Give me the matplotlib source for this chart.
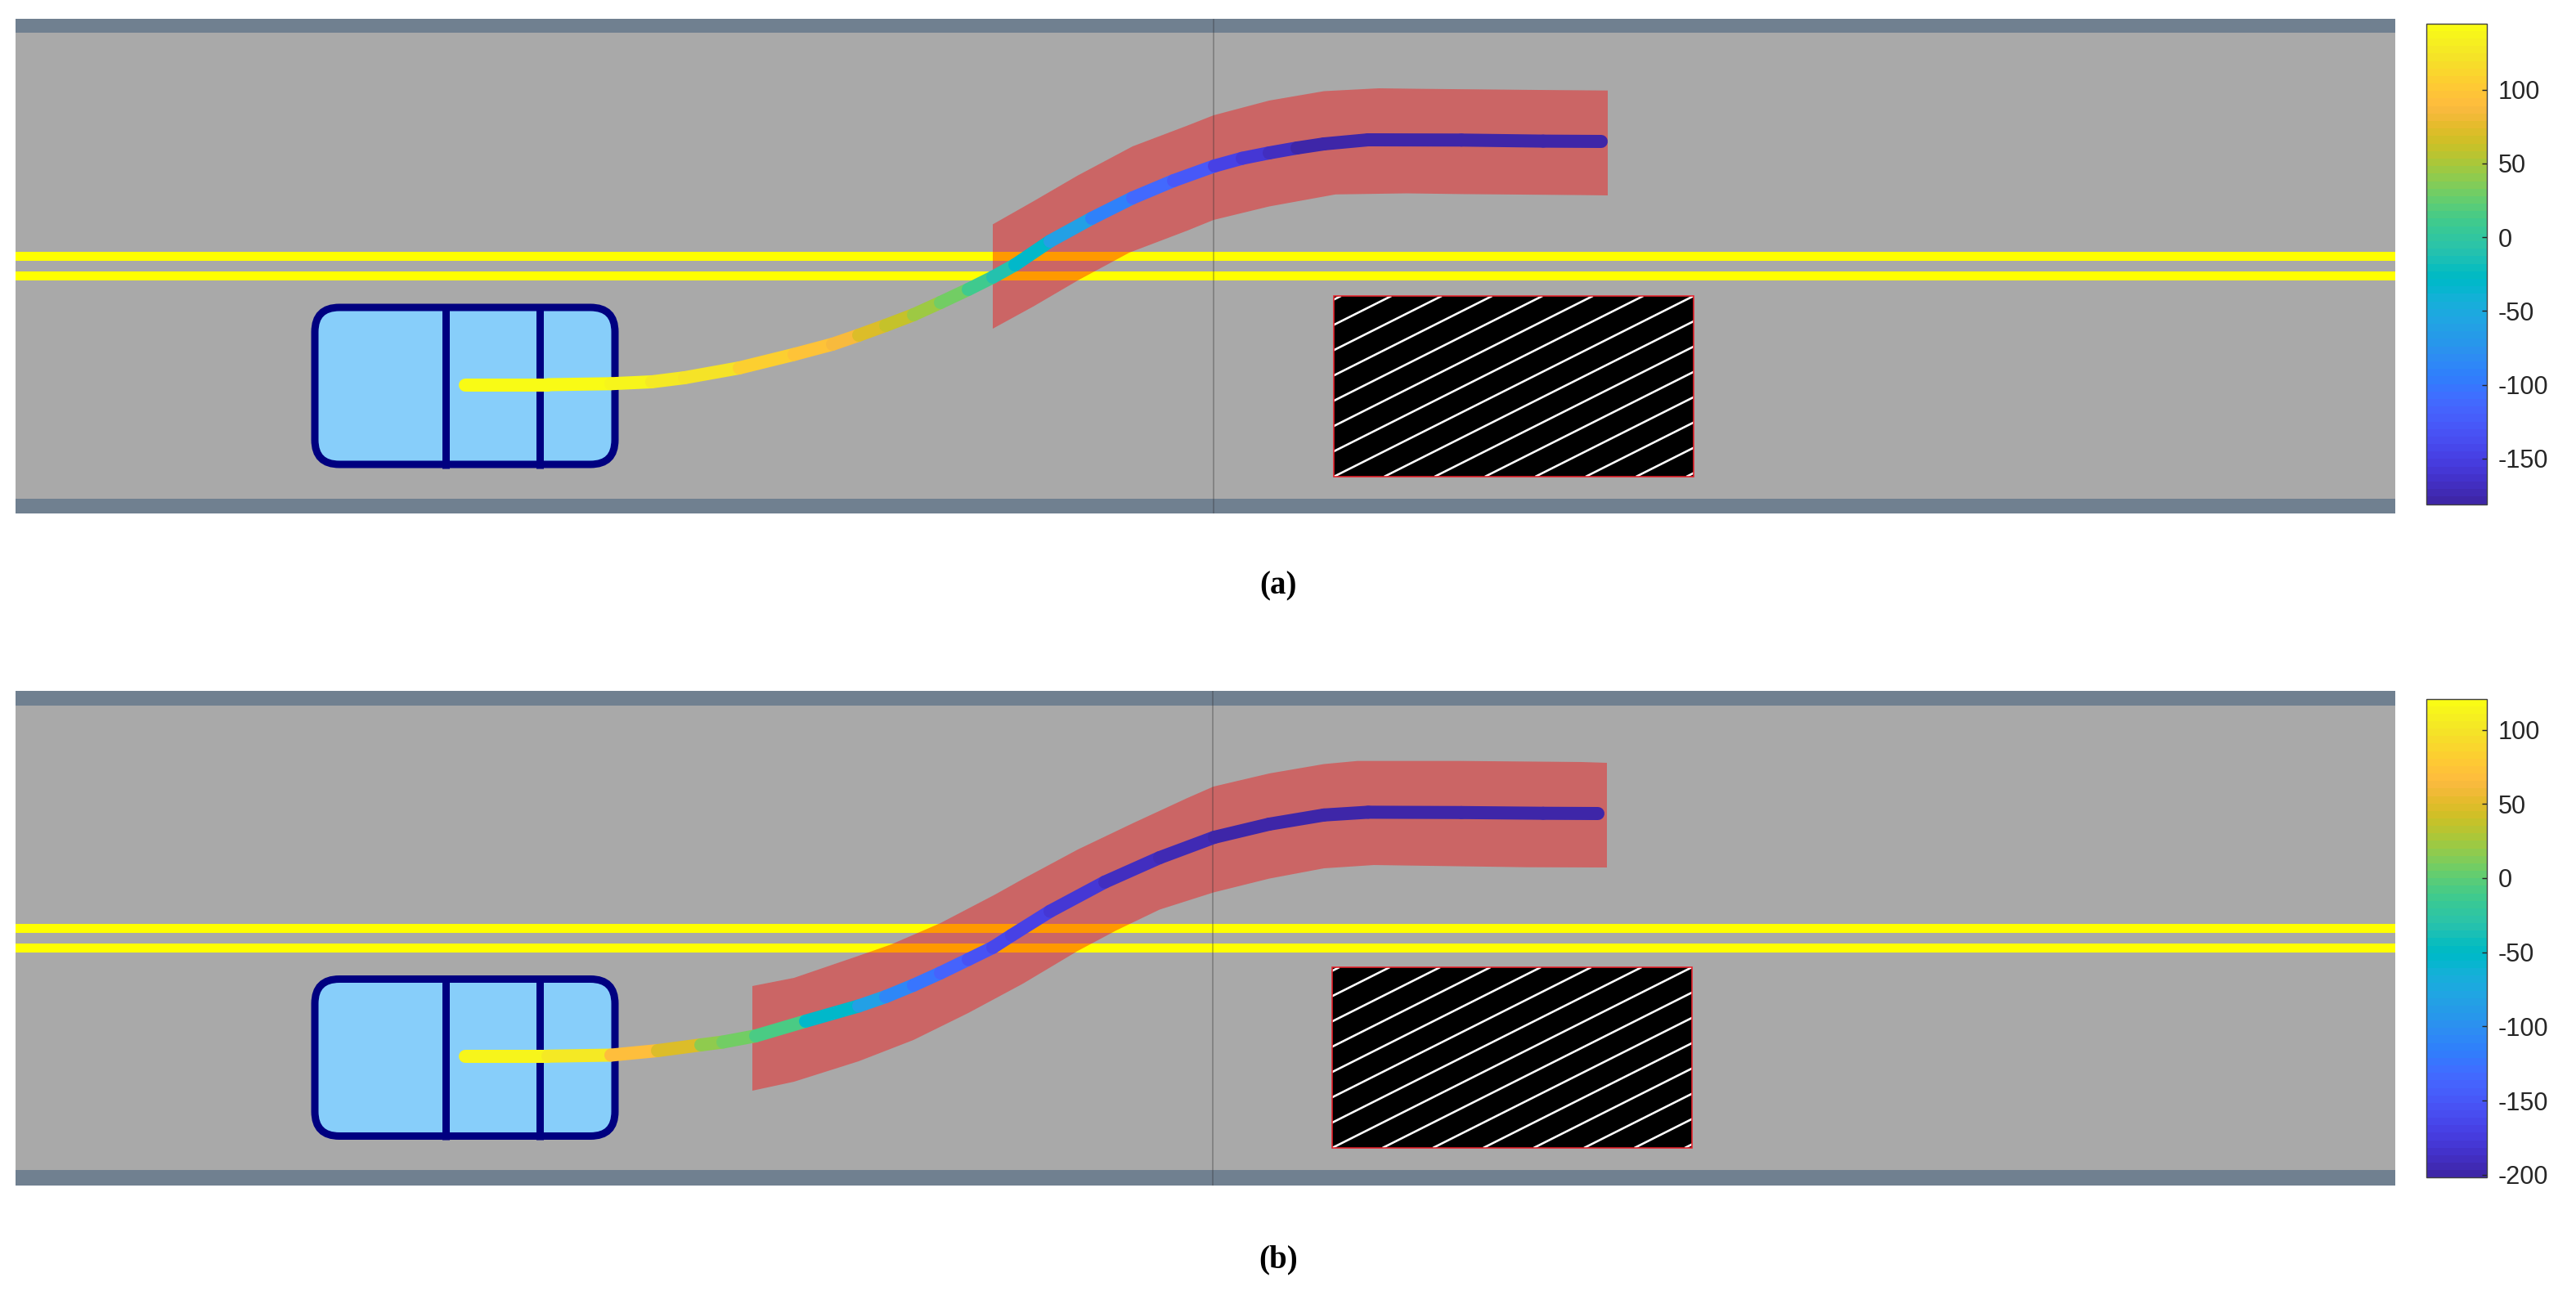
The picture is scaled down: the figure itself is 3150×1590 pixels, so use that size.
import numpy as np
import matplotlib
matplotlib.use("Agg")
import matplotlib.pyplot as plt
from matplotlib.cm import ScalarMappable
from matplotlib.collections import LineCollection
from matplotlib.colors import ListedColormap, Normalize
from matplotlib.patches import FancyBboxPatch, Rectangle
from matplotlib.transforms import Bbox

plt.rcParams["font.family"] = ["Liberation Sans", "DejaVu Sans"]
plt.rcParams["axes.unicode_minus"] = False

WIDTH, HEIGHT = 3150, 1590
PT = 0.72  # one pixel in points at dpi 100

# MATLAB parula, old version (R2014a), 64 levels
PARULA = [
    (0.2422, 0.1504, 0.6603), (0.2504, 0.1650, 0.7076), (0.2578, 0.1818, 0.7511), (0.2647, 0.1978, 0.7952),
    (0.2706, 0.2147, 0.8364), (0.2751, 0.2342, 0.8710), (0.2783, 0.2559, 0.8991), (0.2803, 0.2782, 0.9221),
    (0.2813, 0.3006, 0.9414), (0.2810, 0.3228, 0.9579), (0.2795, 0.3447, 0.9717), (0.2760, 0.3667, 0.9829),
    (0.2699, 0.3892, 0.9906), (0.2602, 0.4123, 0.9952), (0.2440, 0.4358, 0.9988), (0.2206, 0.4603, 0.9973),
    (0.1963, 0.4847, 0.9892), (0.1834, 0.5074, 0.9798), (0.1786, 0.5289, 0.9682), (0.1764, 0.5499, 0.9520),
    (0.1687, 0.5703, 0.9359), (0.1540, 0.5902, 0.9218), (0.1460, 0.6091, 0.9079), (0.1380, 0.6276, 0.8973),
    (0.1248, 0.6459, 0.8883), (0.1113, 0.6635, 0.8763), (0.0952, 0.6798, 0.8598), (0.0689, 0.6948, 0.8394),
    (0.0297, 0.7082, 0.8163), (0.0036, 0.7200, 0.7917), (0.0067, 0.7300, 0.7660), (0.0433, 0.7394, 0.7394),
    (0.0964, 0.7500, 0.7120), (0.1408, 0.7584, 0.6842), (0.1717, 0.7670, 0.6554), (0.1938, 0.7758, 0.6251),
    (0.2161, 0.7843, 0.5923), (0.2470, 0.7918, 0.5567), (0.2906, 0.7973, 0.5188), (0.3406, 0.8008, 0.4789),
    (0.3909, 0.8029, 0.4354), (0.4456, 0.8024, 0.3909), (0.5044, 0.7993, 0.3480), (0.5616, 0.7942, 0.3045),
    (0.6174, 0.7876, 0.2612), (0.6720, 0.7793, 0.2227), (0.7242, 0.7698, 0.1910), (0.7738, 0.7598, 0.1646),
    (0.8203, 0.7498, 0.1535), (0.8634, 0.7406, 0.1596), (0.9035, 0.7330, 0.1774), (0.9393, 0.7288, 0.2100),
    (0.9728, 0.7298, 0.2394), (0.9956, 0.7434, 0.2371), (0.9970, 0.7659, 0.2199), (0.9952, 0.7893, 0.2028),
    (0.9892, 0.8136, 0.1885), (0.9786, 0.8386, 0.1766), (0.9676, 0.8639, 0.1643), (0.9610, 0.8890, 0.1537),
    (0.9597, 0.9135, 0.1423), (0.9628, 0.9373, 0.1265), (0.9691, 0.9606, 0.1064), (0.9769, 0.9839, 0.0805),
]

road_x = [19, 2929]

# panel (a)
road_a_y = [22.7, 628.4]
band_a_y = [40.4, 610.0]
lane_a_y = [(308, 319), (332, 343)]
center_a_x = 1484
car_a = (385, 376, 367, 192)
dividers_a_x = [545, 660]
obstacle_a = (1631, 361.5, 440, 221.5)
path_a_x = [569, 670, 747, 797, 837, 904, 971, 1018, 1050, 1083, 1117, 1150, 1184, 1214, 1241,
            1284, 1335, 1385, 1435, 1485, 1519, 1552, 1586, 1619, 1673, 1787, 1887, 1958]
path_a_y = [470.5, 470.5, 469.3, 467, 462, 450, 433.5, 421, 410, 398, 385, 370, 354, 339, 324,
            295, 267, 242, 221, 203, 193.6, 187, 181, 176, 171, 171.3, 172.6, 173]
path_a_val = [145, 142, 136, 128, 120, 108, 97, 85, 72, 60, 48, 30, 10, -10, -30,
              -60, -90, -110, -130, -150, -160, -170, -176, -178, -180, -180, -180, -180]
corridor_a_top_x = [1214, 1264, 1318, 1385, 1452, 1484, 1552, 1619, 1686, 1733, 1880, 1966]
corridor_a_top_y = [274.4, 246, 214.6, 179, 153.6, 141, 123, 111.5, 108, 108.6, 110, 110.7]
corridor_a_bot_x = [1214, 1264, 1318, 1381, 1452, 1484, 1552, 1633, 1720, 1787, 1934, 1966]
corridor_a_bot_y = [402, 374.6, 343, 309, 282, 269, 252.5, 237.8, 236.5, 237.4, 238.6, 239]
bar_a_y = [28.6, 616.6]
bar_a_lim = [-181, 145]
bar_a_ticks = [100, 50, 0, -50, -100, -150]

# panel (b)
road_b_y = [845.0, 1449.6]
band_b_y = [863.4, 1431.0]
lane_b_y = [(1130, 1141), (1154, 1164.5)]
center_b_x = 1483
car_b = (385, 1197.5, 367, 192)
dividers_b_x = [545, 660]
obstacle_b = (1629, 1183, 440, 221)
path_b_x = [569, 670, 747, 804, 857, 884, 924, 985, 1050, 1083, 1117, 1150, 1184, 1214, 1237,
            1284, 1351, 1418, 1485, 1552, 1619, 1673, 1787, 1887, 1954]
path_b_y = [1291.8, 1291.8, 1290.5, 1285, 1278, 1274.5, 1267, 1249, 1230.4, 1219, 1205, 1190, 1173.5, 1158.8, 1144,
            1114.6, 1078.8, 1049, 1024, 1008, 996.8, 993.4, 993.8, 994.7, 995]
path_b_val = [115, 105, 70, 50, 20, 8, -10, -55, -85, -110, -125, -140, -155, -165, -170,
              -180, -190, -195, -198, -200, -202, -202, -202, -202, -202]
corridor_b_top_x = [920, 971, 1050, 1090, 1150, 1217, 1251, 1318, 1385, 1452, 1484, 1552, 1619, 1660, 1787, 1934, 1965]
corridor_b_top_y = [1206, 1196, 1169, 1155, 1129, 1094, 1075, 1039, 1007, 976, 962, 946, 934.5, 930.7, 930.7, 932, 933]
corridor_b_bot_x = [920, 971, 1050, 1117, 1184, 1251, 1318, 1365, 1418, 1484, 1552, 1619, 1680, 1720, 1867, 1965]
corridor_b_bot_y = [1334, 1323, 1298, 1272, 1239, 1203, 1163, 1138, 1112.5, 1091.5, 1074.6, 1062, 1058, 1058.6, 1060.7, 1061]
bar_b_y = [854.5, 1440.4]
bar_b_lim = [-202, 121]
bar_b_ticks = [100, 50, 0, -50, -100, -150, -200]

bar_x = [2967, 3041]
caption_x = 1563
captions = ["(a)", "(b)"]
caption_y = [717, 1541]


def axes_at(fig, x, y):
    # picture pixels to a figure rectangle
    return fig.add_axes([x[0] / WIDTH, 1 - y[1] / HEIGHT, (x[1] - x[0]) / WIDTH, (y[1] - y[0]) / HEIGHT])


def draw_road(fig, road_y, band_y, lanes, center_x, car, dividers, obstacle,
              path_x, path_y, path_val, top_x, top_y, bot_x, bot_y, norm, cmap):
    ax = axes_at(fig, road_x, road_y)
    ax.set_xlim(road_x)
    ax.set_ylim(road_y[1], road_y[0])
    ax.set_facecolor("darkgray")
    ax.axis("off")
    ax.add_patch(Rectangle((road_x[0], road_y[0]), road_x[1] - road_x[0], road_y[1] - road_y[0],
                           color="darkgray", zorder=0))

    # shoulders and lane lines
    ax.axhspan(road_y[0], band_y[0], color="slategray", lw=0, zorder=1)
    ax.axhspan(band_y[1], road_y[1], color="slategray", lw=0, zorder=1)
    for low, high in lanes:
        ax.axhspan(low, high, color="yellow", lw=0, zorder=1)

    # corridor
    ax.fill(top_x + bot_x[::-1], top_y + bot_y[::-1], color="red", alpha=0.4, lw=0, zorder=2)
    ax.axvline(center_x, color="#303030", alpha=0.3, lw=2 * PT, zorder=3)

    # obstacle with hand made hatch, matplotlib only has 45 degrees
    ox, oy, ow, oh = obstacle
    box = Rectangle((ox, oy), ow, oh, facecolor="black", edgecolor="none", zorder=3)
    ax.add_patch(box)
    for k in range(-8, 9):
        start = ox + k * 61.6
        line, = ax.plot([start, start + 440], [oy + oh, oy + oh - 221], color="white",
                        lw=2.6 * PT, zorder=4, solid_capstyle="butt")
        line.set_clip_path(box)
    ax.add_patch(Rectangle((ox, oy), ow, oh, facecolor="none", edgecolor="#e8202a", lw=1.6 * PT, zorder=5))

    # vehicle
    cx, cy, cw, ch = car
    ax.add_patch(FancyBboxPatch((cx + 30, cy + 30), cw - 60, ch - 60, boxstyle="round,pad=30,rounding_size=30",
                                facecolor="lightskyblue", edgecolor="navy", lw=9 * PT, zorder=6))
    for dx in dividers:
        ax.plot([dx, dx], [cy - 4.5, cy + ch + 4.5], color="navy", lw=9 * PT, zorder=7, solid_capstyle="butt")

    # trajectory coloured by the value on the bar
    points = np.column_stack([path_x, path_y])
    segments = np.stack([points[:-1], points[1:]], axis=1)
    lc = LineCollection(segments, cmap=cmap, norm=norm, linewidths=16 * PT, capstyle="round", zorder=8)
    lc.set_array(np.array(path_val[:-1], dtype=float))
    ax.add_collection(lc)
    return ax


def draw_bar(fig, y, lim, ticks, norm, cmap):
    cax = axes_at(fig, bar_x, y)
    cb = fig.colorbar(ScalarMappable(norm=norm, cmap=cmap), cax=cax)
    cb.set_ticks(ticks)
    cb.set_ticklabels([str(t) for t in ticks])
    cb.outline.set_edgecolor("#404040")
    cb.outline.set_linewidth(1.4 * PT)
    cax.tick_params(direction="in", length=6.5 * PT, width=1.4 * PT, color="#262626",
                    labelcolor="#262626", labelsize=30.6 * PT, pad=14 * PT)
    # the longer labels are cut off in the original
    for label in cax.get_yticklabels():
        label.set_clip_on(True)
        label.set_clip_box(Bbox([[0, 0], [3118, HEIGHT]]))


fig = plt.figure(figsize=(WIDTH / 100, HEIGHT / 100), dpi=100, facecolor="white")
cmap = ListedColormap(PARULA)

norm_a = Normalize(*bar_a_lim)
draw_road(fig, road_a_y, band_a_y, lane_a_y, center_a_x, car_a, dividers_a_x, obstacle_a,
          path_a_x, path_a_y, path_a_val, corridor_a_top_x, corridor_a_top_y,
          corridor_a_bot_x, corridor_a_bot_y, norm_a, cmap)
draw_bar(fig, bar_a_y, bar_a_lim, bar_a_ticks, norm_a, cmap)

norm_b = Normalize(*bar_b_lim)
draw_road(fig, road_b_y, band_b_y, lane_b_y, center_b_x, car_b, dividers_b_x, obstacle_b,
          path_b_x, path_b_y, path_b_val, corridor_b_top_x, corridor_b_top_y,
          corridor_b_bot_x, corridor_b_bot_y, norm_b, cmap)
draw_bar(fig, bar_b_y, bar_b_lim, bar_b_ticks, norm_b, cmap)

for text, y in zip(captions, caption_y):
    fig.text(caption_x / WIDTH, 1 - y / HEIGHT, text, ha="center", va="center",
             family=["Liberation Serif", "DejaVu Serif"], fontweight="bold", fontsize=28)

fig.savefig("out.png", dpi=100)
